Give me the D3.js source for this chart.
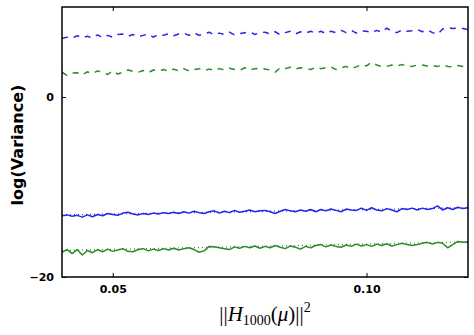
<!DOCTYPE html>
<html>
<head>
<meta charset="utf-8">
<script src="https://cdn.jsdelivr.net/npm/d3@7"></script>
<style>
  html, body { margin: 0; padding: 0; background: #fff; }
  svg { display: block; }
</style>
</head>
<body>
<svg id="chart" width="474" height="335"></svg>
<script>
// Squared norm of H_1000(mu): 81 evenly spaced samples from 0.04 to 0.12
const muNorm = d3.range(81).map(i => +(0.04 + i * 0.001).toFixed(3));

// Upper pair (dashed): blue and green estimates
const blueDashed = [
  6.50,6.65,6.55,6.80,6.60,6.75,6.55,6.90,6.60,6.85,
  6.65,6.95,7.00,6.75,6.95,6.70,6.85,7.00,6.65,6.95,
  6.85,7.05,6.80,7.00,7.10,6.85,7.15,6.85,7.00,7.20,
  6.90,7.10,6.95,7.20,6.90,7.05,7.15,7.25,6.95,7.15,
  7.20,7.00,7.25,6.90,7.15,7.30,7.00,7.25,7.10,7.30,
  7.10,7.30,7.05,7.30,7.15,7.40,7.15,7.40,7.10,7.35,
  7.30,7.15,7.40,7.20,7.65,7.30,7.15,7.45,7.30,7.35,
  7.50,7.25,7.45,7.15,6.95,7.55,7.70,7.60,7.65,7.60,7.50
];
const greenDashed = [
  2.75,2.40,2.65,2.70,2.45,2.80,2.60,2.90,2.70,2.50,
  2.90,2.55,2.75,3.00,2.85,2.75,2.95,2.70,3.00,2.90,
  3.05,2.85,3.10,2.90,3.15,2.90,3.05,3.15,2.95,3.10,
  2.95,3.15,3.00,3.20,3.05,2.95,3.25,3.00,3.15,3.20,
  3.10,3.00,2.75,3.25,3.15,3.30,3.10,3.25,3.15,3.05,
  3.30,3.15,3.25,3.35,3.05,3.25,3.40,3.15,3.35,3.60,
  3.45,3.85,3.55,3.40,3.40,3.55,3.45,3.60,3.45,3.40,
  3.55,3.55,3.45,3.50,3.40,3.55,3.40,3.35,3.50,3.40,3.50
];

// Lower pair (solid): blue and green estimates
const blueSolid = [
  -13.20,-13.10,-13.25,-13.15,-13.35,-13.10,-13.30,-13.05,-13.20,-12.95,
  -13.05,-13.15,-12.90,-12.80,-13.00,-13.10,-12.95,-13.05,-12.90,-13.00,
  -12.85,-12.95,-12.80,-12.95,-12.75,-12.90,-12.70,-12.85,-12.95,-12.75,
  -12.65,-12.90,-12.70,-12.85,-12.60,-12.80,-12.70,-12.55,-12.75,-12.65,
  -12.60,-12.75,-12.95,-12.70,-12.50,-12.65,-12.75,-12.55,-12.70,-12.50,
  -12.75,-12.50,-12.65,-12.45,-12.60,-12.75,-12.45,-12.55,-12.60,-12.35,
  -12.60,-12.30,-12.55,-12.65,-12.40,-12.55,-12.75,-12.40,-12.50,-12.35,
  -12.55,-12.35,-12.50,-12.40,-12.10,-12.55,-12.30,-12.50,-12.25,-12.40,-12.30
];
const greenSolid = [
  -17.25,-16.95,-17.40,-16.95,-17.55,-17.05,-17.30,-16.95,-17.20,-16.90,
  -17.15,-17.00,-16.85,-17.15,-17.20,-16.95,-16.85,-17.10,-16.90,-17.05,
  -16.85,-17.00,-16.80,-17.00,-16.85,-16.75,-16.95,-17.25,-17.10,-16.60,
  -16.65,-16.75,-16.85,-16.95,-16.65,-16.80,-16.60,-16.75,-16.55,-16.80,
  -16.60,-16.75,-16.50,-16.70,-16.85,-16.55,-16.70,-16.90,-16.60,-16.75,
  -16.50,-16.40,-16.65,-16.45,-16.60,-16.70,-16.45,-16.60,-16.35,-16.55,
  -16.40,-16.60,-16.35,-16.50,-16.30,-16.55,-16.40,-16.25,-16.40,-16.50,
  -16.40,-16.25,-16.15,-16.35,-16.15,-16.25,-16.75,-16.40,-16.05,-16.15,-16.10
];

// Straight reference lines (dotted) over the solid curves
const fitX = [0.04, 0.12];
const blueFit = [-13.10, -12.30];
const greenFit = [-17.05, -16.10];

// Axis ticks
const xTicks = [0.05, 0.10];
const xTickLabels = ["0.05", "0.10"];
const yTicks = [-20, 0];
const yTickLabels = ["\u221220", "0"];

const BLUE = "#2626e6";
const GREEN = "#2b8a2b";

const svg = d3.select("#chart");
const margin = { left: 62, top: 7, right: 6, bottom: 58 };
const W = 474, H = 335;
const iw = W - margin.left - margin.right;
const ih = H - margin.top - margin.bottom;

const x = d3.scaleLinear().domain([0.04, 0.12]).range([0, iw]);
const y = d3.scaleLinear().domain([-20, 10]).range([ih, 0]);

const g = svg.append("g").attr("transform", `translate(${margin.left},${margin.top})`);

const line = d3.line().x(d => x(d[0])).y(d => y(d[1]));

function drawSeries(xs, ys, color, dash, width) {
  g.append("path")
    .datum(xs.map((v, i) => [v, ys[i]]))
    .attr("fill", "none")
    .attr("stroke", color)
    .attr("stroke-width", width)
    .attr("stroke-dasharray", dash)
    .attr("stroke-linejoin", "round")
    .attr("d", line);
}

drawSeries(muNorm, blueDashed, BLUE, "6,6", 1.5);
drawSeries(muNorm, greenDashed, GREEN, "6,6", 1.5);
drawSeries(fitX, blueFit, BLUE, "1,3", 1.2);
drawSeries(fitX, greenFit, GREEN, "1,3", 1.2);
drawSeries(muNorm, blueSolid, BLUE, null, 1.5);
drawSeries(muNorm, greenSolid, GREEN, null, 1.5);

// Axes: ticks point inward on all four sides
const tickLen = 4;
const bottomAxis = d3.axisBottom(x).tickValues(xTicks).tickSize(-tickLen).tickPadding(8)
  .tickFormat((d, i) => xTickLabels[i]);
const topAxis = d3.axisTop(x).tickValues(xTicks).tickSize(-tickLen).tickFormat("");
const leftAxis = d3.axisLeft(y).tickValues(yTicks).tickSize(-tickLen).tickPadding(8)
  .tickFormat((d, i) => yTickLabels[i]);
const rightAxis = d3.axisRight(y).tickValues(yTicks).tickSize(-tickLen).tickFormat("");

function styleAxis(sel) {
  sel.select(".domain").remove();
  sel.selectAll(".tick line").attr("stroke", "#000").attr("stroke-width", 1);
  sel.selectAll(".tick text")
    .attr("fill", "#000")
    .style("font-family", "'DejaVu Sans', sans-serif")
    .style("font-weight", "bold")
    .style("font-size", "11px");
}

g.append("g").attr("transform", `translate(0,${ih})`).call(bottomAxis).call(styleAxis);
g.append("g").call(topAxis).call(styleAxis);
g.append("g").call(leftAxis).call(styleAxis);
g.append("g").attr("transform", `translate(${iw},0)`).call(rightAxis).call(styleAxis);

// Frame
g.append("rect")
  .attr("x", 0).attr("y", 0).attr("width", iw).attr("height", ih)
  .attr("fill", "none").attr("stroke", "#000").attr("stroke-width", 1.5);

// Y label
svg.append("text")
  .attr("transform", `translate(23,${margin.top + ih / 2 + 3}) rotate(-90)`)
  .attr("text-anchor", "middle")
  .style("font-family", "'DejaVu Sans', sans-serif")
  .style("font-weight", "bold")
  .style("font-size", "16px")
  .text("log(Variance)");

// X label: ||H_1000(mu)||^2
const xl = svg.append("text")
  .attr("x", margin.left + iw / 2)
  .attr("y", 321)
  .attr("text-anchor", "middle")
  .style("font-family", "'Liberation Serif', 'DejaVu Serif', serif")
  .style("font-size", "21px");
xl.append("tspan").text("||");
xl.append("tspan").style("font-style", "italic").text("H");
xl.append("tspan").attr("dy", 4).style("font-size", "14px").text("1000");
xl.append("tspan").attr("dy", -4).text("(");
xl.append("tspan").style("font-style", "italic").text("\u03bc");
xl.append("tspan").text(")||");
xl.append("tspan").attr("dy", -9).style("font-size", "14px").text("2");
</script>
</body>
</html>
